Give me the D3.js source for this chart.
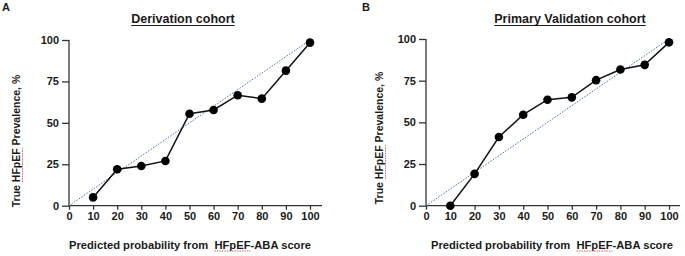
<!DOCTYPE html>
<html><head><meta charset="utf-8">
<script src="https://cdn.jsdelivr.net/npm/d3@7"></script>
<style>body{margin:0;background:#fff}svg{display:block}text{font-family:"Liberation Sans",Arial,sans-serif;font-weight:bold;fill:#1a1a1a}</style>
</head><body><svg id="c" width="685" height="256"></svg>
<script>
const xTicks = [0,10,20,30,40,50,60,70,80,90,100];
const yTicks = [0,25,50,75,100];
const predicted = [10,20,30,40,50,60,70,80,90,100];
const derivation = [5,22,24,27,55.5,57.8,66.7,64.6,81.5,98.4];
const validation = [0,19.1,41.2,54.6,63.6,65,75.3,81.7,84.5,98];
const titles = ["Derivation cohort","Primary Validation cohort"];
const letters = ["A","B"];

const svg = d3.select("#c");
const panels = [
  {x0:69, x1:310, xEnd:322, yTop:40, yBot:205.7, data:derivation, title:titles[0], letter:letters[0], lx:2, tx:183, ylx:16, yly:141, xlx:190},
  {x0:426, x1:669, xEnd:680, yTop:39, yBot:205.7, data:validation, title:titles[1], letter:letters[1], lx:362, tx:570, ylx:379, yly:138, xlx:552}
];

function labelWithSquiggle(g, parts, fs){
  const t = g.append("text").attr("font-size",fs).attr("text-anchor","start").style("white-space","pre");
  parts.forEach(p=>t.append("tspan").text(p.t));
  const total = t.node().getComputedTextLength();
  t.attr("x",-total/2);
  let off = -total/2;
  parts.forEach((p,i)=>{
    const w = t.node().getSubStringLength(parts.slice(0,i).reduce((a,q)=>a+q.t.length,0), p.t.length);
    if(p.mark){
      g.append("line").attr("x1",off).attr("x2",off+w).attr("y1",2.5).attr("y2",2.5)
        .attr("stroke","#e06060").attr("stroke-width",1).attr("stroke-dasharray","1.5,1");
    }
    off += w;
  });
}

panels.forEach(p=>{
  const x = d3.scaleLinear().domain([0,100]).range([p.x0,p.x1]);
  const y = d3.scaleLinear().domain([0,100]).range([p.yBot,p.yTop]);
  const g = svg.append("g");

  const xa = g.append("g").attr("transform",`translate(0,${p.yBot})`)
    .call(d3.axisBottom(x).tickValues(xTicks).tickSize(4).tickPadding(3).tickFormat(d3.format("d")));
  xa.select(".domain").remove();
  xa.append("line").attr("x1",p.x0).attr("x2",p.xEnd).attr("stroke","#333").attr("stroke-width",1.3);
  const ya = g.append("g").attr("transform",`translate(${p.x0},0)`)
    .call(d3.axisLeft(y).tickValues(yTicks).tickSize(7).tickPadding(3));
  ya.select(".domain").remove();
  ya.append("line").attr("y1",p.yTop).attr("y2",p.yBot).attr("stroke","#333").attr("stroke-width",1.3);
  g.selectAll(".tick line").attr("stroke","#333").attr("stroke-width",1.3);
  g.selectAll(".tick text").attr("font-size",11).attr("font-family","Liberation Sans, Arial, sans-serif").attr("font-weight","bold").attr("fill","#1a1a1a");

  g.append("line").attr("x1",x(0)).attr("y1",y(0)).attr("x2",x(100)).attr("y2",y(100))
    .attr("stroke","#4a6ca8").attr("stroke-width",1).attr("stroke-dasharray","1.5,1.5");

  const pts = predicted.map((d,i)=>[d,p.data[i]]);
  g.append("path").datum(pts).attr("fill","none").attr("stroke","#111").attr("stroke-width",1.5)
    .attr("d",d3.line().x(d=>x(d[0])).y(d=>y(d[1])));
  g.selectAll("circle").data(pts).join("circle").attr("cx",d=>x(d[0])).attr("cy",d=>y(d[1])).attr("r",4.3).attr("fill","#000");

  const tt = g.append("text").attr("x",p.tx).attr("y",23).attr("text-anchor","middle").attr("font-size",12.5).text(p.title);
  const tw = tt.node().getComputedTextLength();
  g.append("line").attr("x1",p.tx-tw/2).attr("x2",p.tx+tw/2).attr("y1",25.5).attr("y2",25.5).attr("stroke","#1a1a1a").attr("stroke-width",1.2);

  g.append("text").attr("x",p.lx).attr("y",11).attr("font-size",11).text(p.letter);

  const xl = g.append("g").attr("transform",`translate(${p.xlx},248.5)`);
  labelWithSquiggle(xl,[{t:"Predicted probability from  "},{t:"HFpEF",mark:true},{t:"-ABA score"}],11.2);
  const yl = g.append("g").attr("transform",`translate(${p.ylx+4},${p.yly}) rotate(-90)`);
  labelWithSquiggle(yl,[{t:"True "},{t:"HFpEF",mark:true},{t:" Prevalence, %"}],10.5);
});
</script></body></html>
